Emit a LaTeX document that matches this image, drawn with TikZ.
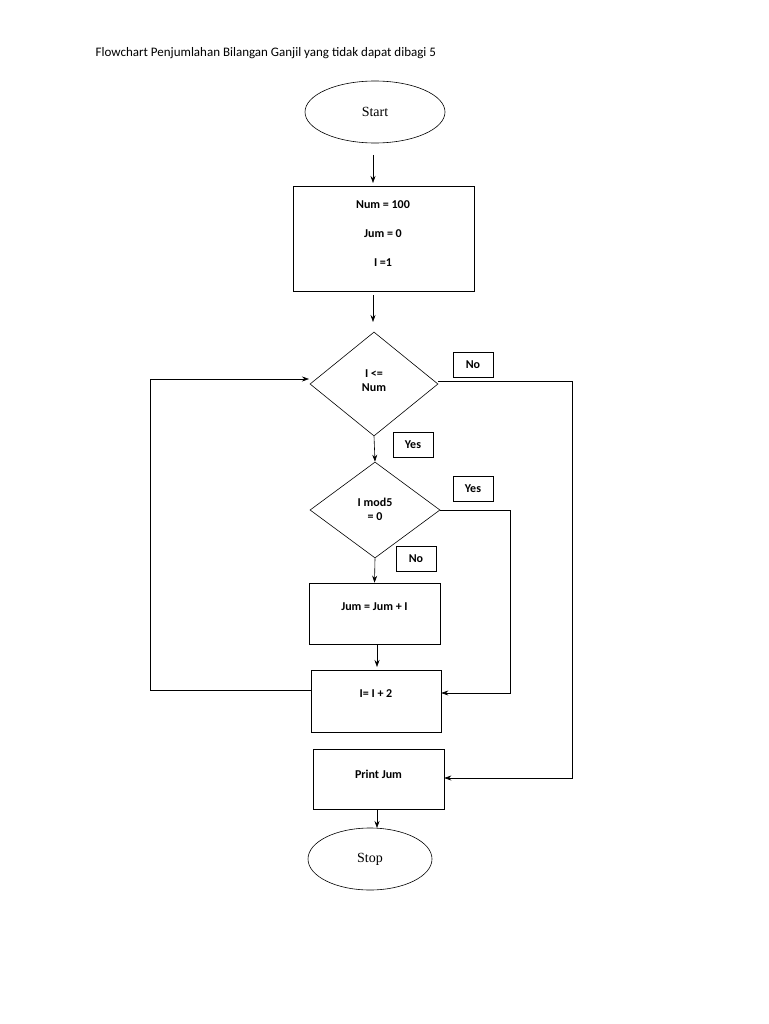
\documentclass[tikz,border=0pt]{standalone}
\usepackage{fontspec}
\setmainfont{Carlito}
\newfontfamily\serifx{Liberation Serif}
\usetikzlibrary{shapes.geometric,arrows.meta}
\begin{document}
\begin{tikzpicture}[x=1pt,y=-1pt,semithick,
  lab/.style={draw,minimum width=40pt,minimum height=25pt,font=\bfseries\fontsize{12}{14}\selectfont},
  arr/.style={-{Stealth[length=7pt,width=5pt]}},
  txt/.style={font=\bfseries\fontsize{12}{14}\selectfont}]
\useasboundingbox (0,0) rectangle (768,1024);
\node[anchor=west,font=\fontsize{13}{15}\selectfont] (title) at (92,53) {Flowchart Penjumlahan Bilangan Ganjil yang tidak dapat dibagi 5};
\node[draw,ellipse,minimum width=140pt,minimum height=62pt,font=\serifx\fontsize{14}{16}\selectfont] (start) at (375,112) {Start};
\node[draw,minimum width=181pt,minimum height=105pt] (init) at (383.5,238.5) {};
\node[txt] (t1) at (383,205) {Num = 100};
\node[txt] (t2) at (383,234) {Jum = 0};
\node[txt] (t3) at (383,263) {I =1};
\node[draw,diamond,aspect=1.3,minimum width=128pt,minimum height=104pt,inner sep=0pt] (d1) at (374,384) {};
\node[txt,align=center] (d1t) at (374,381) {I <=\\Num};
\node[draw,diamond,aspect=1.35,minimum width=130pt,minimum height=96pt,inner sep=0pt] (d2) at (375,510) {};
\node[txt,align=center] (d2t) at (375,509) {I mod5\\= 0};
\node[draw,minimum width=131pt,minimum height=61pt] (jum) at (374.5,613.5) {};
\node[txt] (jumt) at (374.5,607) {Jum = Jum + I};
\node[draw,minimum width=130pt,minimum height=62pt] (inc) at (376,701) {};
\node[txt] (inct) at (376,694) {I= I + 2};
\node[draw,minimum width=131pt,minimum height=60pt] (print) at (378.5,779) {};
\node[txt] (printt) at (378.5,774) {Print Jum};
\node[draw,ellipse,minimum width=124pt,minimum height=62pt,font=\serifx\fontsize{14}{16}\selectfont] (stop) at (370,859) {Stop};
\node[lab] (no1) at (473,364.5) {No};
\node[lab] (yes1) at (413,444.5) {Yes};
\node[lab] (yes2) at (473,488.5) {Yes};
\node[lab] (no2) at (416,559) {No};
\coordinate (a1) at (373,155); \coordinate (a2) at (373,295);
\draw[arr] (a1) -- (373,183);
\draw[arr] (a2) -- (373,322);
\draw[arr] (d1.south) -- (d2.north);
\draw[arr] (d2.south) -- (jum.north);
\draw[arr] (377,644) -- (377,667);
\draw[arr] (377,809) -- (377,828);
\draw[arr] (inc.west |- 0,690) -- (150,690) -- (150,379) -- (309,379);
\draw[arr] (d1.east) ++(0,-3) -- (572,381) -- (572,778) -- (print.east |- 0,778);
\draw[arr] (d2.east) -- (510,510) -- (510,693) -- (inc.east |- 0,693);
\end{tikzpicture}
\end{document}
